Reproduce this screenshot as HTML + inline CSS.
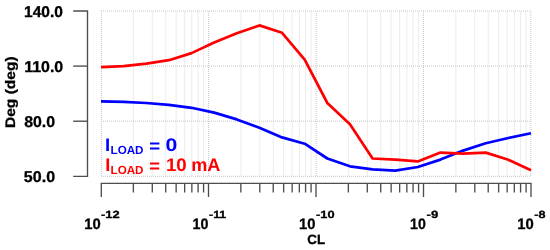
<!DOCTYPE html>
<html><head><meta charset="utf-8"><style>
html,body{margin:0;padding:0;background:#fff;width:550px;height:250px;overflow:hidden}
svg{display:block}
text{font-family:"Liberation Sans",Arial,sans-serif;font-weight:bold;text-rendering:geometricPrecision}
</style></head><body>
<svg width="550" height="250" viewBox="0 0 550 250">
<rect width="550" height="250" fill="#fff"/>
<g stroke="#ececec" stroke-width="1"><line x1="133.36" y1="11" x2="133.36" y2="176.3"/><line x1="152.29" y1="11" x2="152.29" y2="176.3"/><line x1="165.72" y1="11" x2="165.72" y2="176.3"/><line x1="176.14" y1="11" x2="176.14" y2="176.3"/><line x1="184.65" y1="11" x2="184.65" y2="176.3"/><line x1="191.85" y1="11" x2="191.85" y2="176.3"/><line x1="198.08" y1="11" x2="198.08" y2="176.3"/><line x1="203.58" y1="11" x2="203.58" y2="176.3"/><line x1="240.86" y1="11" x2="240.86" y2="176.3"/><line x1="259.79" y1="11" x2="259.79" y2="176.3"/><line x1="273.22" y1="11" x2="273.22" y2="176.3"/><line x1="283.64" y1="11" x2="283.64" y2="176.3"/><line x1="292.15" y1="11" x2="292.15" y2="176.3"/><line x1="299.35" y1="11" x2="299.35" y2="176.3"/><line x1="305.58" y1="11" x2="305.58" y2="176.3"/><line x1="311.08" y1="11" x2="311.08" y2="176.3"/><line x1="348.36" y1="11" x2="348.36" y2="176.3"/><line x1="367.29" y1="11" x2="367.29" y2="176.3"/><line x1="380.72" y1="11" x2="380.72" y2="176.3"/><line x1="391.14" y1="11" x2="391.14" y2="176.3"/><line x1="399.65" y1="11" x2="399.65" y2="176.3"/><line x1="406.85" y1="11" x2="406.85" y2="176.3"/><line x1="413.08" y1="11" x2="413.08" y2="176.3"/><line x1="418.58" y1="11" x2="418.58" y2="176.3"/><line x1="455.86" y1="11" x2="455.86" y2="176.3"/><line x1="474.79" y1="11" x2="474.79" y2="176.3"/><line x1="488.22" y1="11" x2="488.22" y2="176.3"/><line x1="498.64" y1="11" x2="498.64" y2="176.3"/><line x1="507.15" y1="11" x2="507.15" y2="176.3"/><line x1="514.35" y1="11" x2="514.35" y2="176.3"/><line x1="520.58" y1="11" x2="520.58" y2="176.3"/><line x1="526.08" y1="11" x2="526.08" y2="176.3"/></g>
<g stroke="#c8c8c8" stroke-width="1" stroke-dasharray="1 1"><line x1="101.40" y1="11" x2="101.40" y2="176.3"/><line x1="208.50" y1="11" x2="208.50" y2="176.3"/><line x1="316.20" y1="11" x2="316.20" y2="176.3"/><line x1="423.50" y1="11" x2="423.50" y2="176.3"/><line x1="530.80" y1="11" x2="530.80" y2="176.3"/><line x1="101" y1="11" x2="531" y2="11"/><line x1="101" y1="66.1" x2="531" y2="66.1"/><line x1="101" y1="121.2" x2="531" y2="121.2"/><line x1="101" y1="176.3" x2="531" y2="176.3"/></g>
<g stroke="#4d4d4d" stroke-width="1.35" fill="none">
<polyline points="73.2,11 87.5,11 87.5,176.3 73.2,176.3"/>
<line x1="73.2" y1="66.1" x2="87.5" y2="66.1"/><line x1="73.2" y1="121.2" x2="87.5" y2="121.2"/>
<polyline points="101.3,197 101.3,183.4 531,183.4 531,197"/>
<line x1="208.50" y1="183.4" x2="208.50" y2="197"/><line x1="316.00" y1="183.4" x2="316.00" y2="197"/><line x1="423.50" y1="183.4" x2="423.50" y2="197"/>
<line x1="133.36" y1="183.4" x2="133.36" y2="192.5"/><line x1="152.29" y1="183.4" x2="152.29" y2="192.5"/><line x1="165.72" y1="183.4" x2="165.72" y2="192.5"/><line x1="176.14" y1="183.4" x2="176.14" y2="192.5"/><line x1="184.65" y1="183.4" x2="184.65" y2="192.5"/><line x1="191.85" y1="183.4" x2="191.85" y2="192.5"/><line x1="198.08" y1="183.4" x2="198.08" y2="192.5"/><line x1="203.58" y1="183.4" x2="203.58" y2="192.5"/><line x1="240.86" y1="183.4" x2="240.86" y2="192.5"/><line x1="259.79" y1="183.4" x2="259.79" y2="192.5"/><line x1="273.22" y1="183.4" x2="273.22" y2="192.5"/><line x1="283.64" y1="183.4" x2="283.64" y2="192.5"/><line x1="292.15" y1="183.4" x2="292.15" y2="192.5"/><line x1="299.35" y1="183.4" x2="299.35" y2="192.5"/><line x1="305.58" y1="183.4" x2="305.58" y2="192.5"/><line x1="311.08" y1="183.4" x2="311.08" y2="192.5"/><line x1="348.36" y1="183.4" x2="348.36" y2="192.5"/><line x1="367.29" y1="183.4" x2="367.29" y2="192.5"/><line x1="380.72" y1="183.4" x2="380.72" y2="192.5"/><line x1="391.14" y1="183.4" x2="391.14" y2="192.5"/><line x1="399.65" y1="183.4" x2="399.65" y2="192.5"/><line x1="406.85" y1="183.4" x2="406.85" y2="192.5"/><line x1="413.08" y1="183.4" x2="413.08" y2="192.5"/><line x1="418.58" y1="183.4" x2="418.58" y2="192.5"/><line x1="455.86" y1="183.4" x2="455.86" y2="192.5"/><line x1="474.79" y1="183.4" x2="474.79" y2="192.5"/><line x1="488.22" y1="183.4" x2="488.22" y2="192.5"/><line x1="498.64" y1="183.4" x2="498.64" y2="192.5"/><line x1="507.15" y1="183.4" x2="507.15" y2="192.5"/><line x1="514.35" y1="183.4" x2="514.35" y2="192.5"/><line x1="520.58" y1="183.4" x2="520.58" y2="192.5"/><line x1="526.08" y1="183.4" x2="526.08" y2="192.5"/>
</g>
<polyline fill="none" stroke="#0000ff" stroke-width="2.7" stroke-linejoin="round" points="101.00,101.40 123.63,101.90 146.26,103.00 168.89,104.80 191.53,107.80 214.16,112.60 236.79,119.40 259.42,127.80 282.05,137.40 304.68,143.70 327.32,158.50 349.95,166.30 372.58,169.30 395.21,170.60 417.84,167.00 440.47,159.60 463.11,150.60 485.74,143.30 508.37,138.00 531.00,133.20"/>
<polyline fill="none" stroke="#ff0000" stroke-width="2.7" stroke-linejoin="round" points="101.00,67.20 123.63,66.20 146.26,63.60 168.89,60.20 191.53,53.10 214.16,42.50 236.79,33.30 259.42,25.40 282.05,32.80 304.68,59.70 327.32,103.00 349.95,124.30 372.58,158.50 395.21,159.60 417.84,161.40 440.47,152.60 463.11,153.60 485.74,152.60 508.37,159.80 531.00,170.20"/>
<g fill="#000" stroke="#000" stroke-width="0.3">
<text x="24.00" y="17.00" font-size="15.60" textLength="38.92" lengthAdjust="spacingAndGlyphs">140.0</text>
<text x="24.18" y="72.00" font-size="15.60" textLength="39.06" lengthAdjust="spacingAndGlyphs">110.0</text>
<text x="24.15" y="127.00" font-size="15.60" textLength="30.96" lengthAdjust="spacingAndGlyphs">80.0</text>
<text x="23.88" y="182.00" font-size="15.60" textLength="31.18" lengthAdjust="spacingAndGlyphs">50.0</text>
<text x="84.18" y="229.00" font-size="15.20" textLength="16.46" lengthAdjust="spacingAndGlyphs">10</text>
<text x="101.04" y="218.00" font-size="10.40" textLength="18.65" lengthAdjust="spacingAndGlyphs">-12</text>
<text x="192.54" y="229.00" font-size="15.20" textLength="15.90" lengthAdjust="spacingAndGlyphs">10</text>
<text x="209.09" y="218.00" font-size="10.40" textLength="17.08" lengthAdjust="spacingAndGlyphs">-11</text>
<text x="299.00" y="229.00" font-size="15.20" textLength="16.44" lengthAdjust="spacingAndGlyphs">10</text>
<text x="316.03" y="218.00" font-size="10.40" textLength="18.49" lengthAdjust="spacingAndGlyphs">-10</text>
<text x="410.09" y="229.00" font-size="15.20" textLength="15.71" lengthAdjust="spacingAndGlyphs">10</text>
<text x="426.53" y="218.00" font-size="10.40" textLength="11.72" lengthAdjust="spacingAndGlyphs">-9</text>
<text x="517.20" y="229.00" font-size="15.20" textLength="16.48" lengthAdjust="spacingAndGlyphs">10</text>
<text x="534.35" y="218.00" font-size="10.40" textLength="11.19" lengthAdjust="spacingAndGlyphs">-8</text>
<text x="307.33" y="244.00" font-size="13.40" textLength="17.83" lengthAdjust="spacingAndGlyphs">CL</text>
<text transform="translate(15.2,128) rotate(-90)" font-size="13.8" textLength="71.6" lengthAdjust="spacingAndGlyphs">Deg (deg)</text>
</g>
<g fill="#0000ff"><text x="105.07" y="151.00" font-size="18.20" textLength="5.14" lengthAdjust="spacingAndGlyphs">I</text><text x="110.54" y="154.00" font-size="11.80" textLength="32.97" lengthAdjust="spacingAndGlyphs">LOAD</text><text x="149.21" y="152.00" font-size="18.20" textLength="10.90" lengthAdjust="spacingAndGlyphs">=</text><text x="165.40" y="151.00" font-size="18.20" textLength="11.80" lengthAdjust="spacingAndGlyphs">0</text></g>
<g fill="#ff0000"><text x="105.31" y="171.00" font-size="18.20" textLength="5.06" lengthAdjust="spacingAndGlyphs">I</text><text x="110.54" y="174.00" font-size="11.80" textLength="32.97" lengthAdjust="spacingAndGlyphs">LOAD</text><text x="149.25" y="172.00" font-size="18.20" textLength="10.71" lengthAdjust="spacingAndGlyphs">=</text><text x="165.97" y="171.00" font-size="18.20" textLength="20.74" lengthAdjust="spacingAndGlyphs">10</text><text x="191.22" y="171.00" font-size="18.20" textLength="29.23" lengthAdjust="spacingAndGlyphs">mA</text></g>
</svg>
</body></html>
